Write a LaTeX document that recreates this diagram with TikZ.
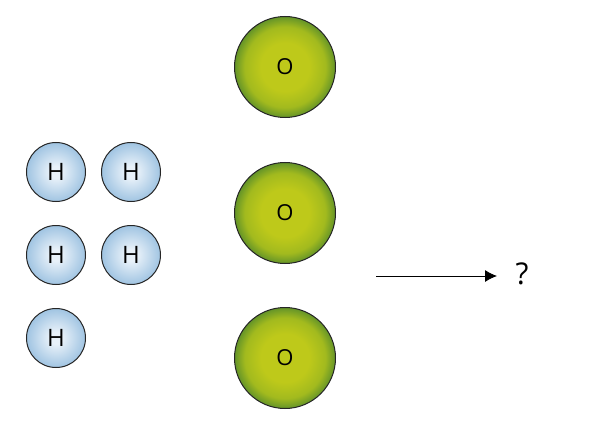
\documentclass[tikz,border=0pt]{standalone}
\usetikzlibrary{arrows.meta}
\usepackage{fontspec}
\setmainfont{Open Sans}
\definecolor{oin}{RGB}{190,201,26}
\definecolor{omid}{RGB}{162,186,30}
\definecolor{oout}{RGB}{100,148,40}
\definecolor{hin}{RGB}{232,241,249}
\definecolor{hout}{RGB}{160,196,226}
\pgfdeclareradialshading{oshade}{\pgfpoint{0bp}{0bp}}{color(0bp)=(oin); color(12bp)=(oin); color(20bp)=(omid); color(25bp)=(oout); color(50bp)=(oout)}
\pgfdeclareradialshading{hshade}{\pgfpoint{0bp}{0bp}}{color(0bp)=(hin); color(5bp)=(hin); color(25bp)=(hout); color(50bp)=(hout)}
\begin{document}
\begin{tikzpicture}[x=1pt,y=-1pt,
  hatom/.style={circle,draw=black!85,line width=1pt,minimum size=59pt,inner sep=0pt,
    shading=hshade,font=\fontsize{24}{24}\selectfont},
  oatom/.style={circle,draw=black!85,line width=1pt,minimum size=101pt,inner sep=0pt,
    shading=oshade,font=\fontsize{22}{22}\selectfont},
  arr/.style={-{Latex[length=12pt,width=12pt]},line width=0.8pt}]
\useasboundingbox (0,0) rectangle (589,425);
\node[hatom] (h1) at (56,172) {H};
\node[hatom] (h2) at (131,172) {H};
\node[hatom] (h3) at (56,255) {H};
\node[hatom] (h4) at (131,255) {H};
\node[hatom] (h5) at (56,338) {H};
\node[oatom] (o1) at (285,67) {O};
\node[oatom] (o2) at (285,213) {O};
\node[oatom] (o3) at (285,358) {O};
\coordinate (a1) at (376,276);
\coordinate (a2) at (497,276);
\node[font=\fontsize{30}{30}\selectfont] (q) at (522,274) {?};
\draw[arr] (a1) -- (a2);
\end{tikzpicture}
\end{document}
